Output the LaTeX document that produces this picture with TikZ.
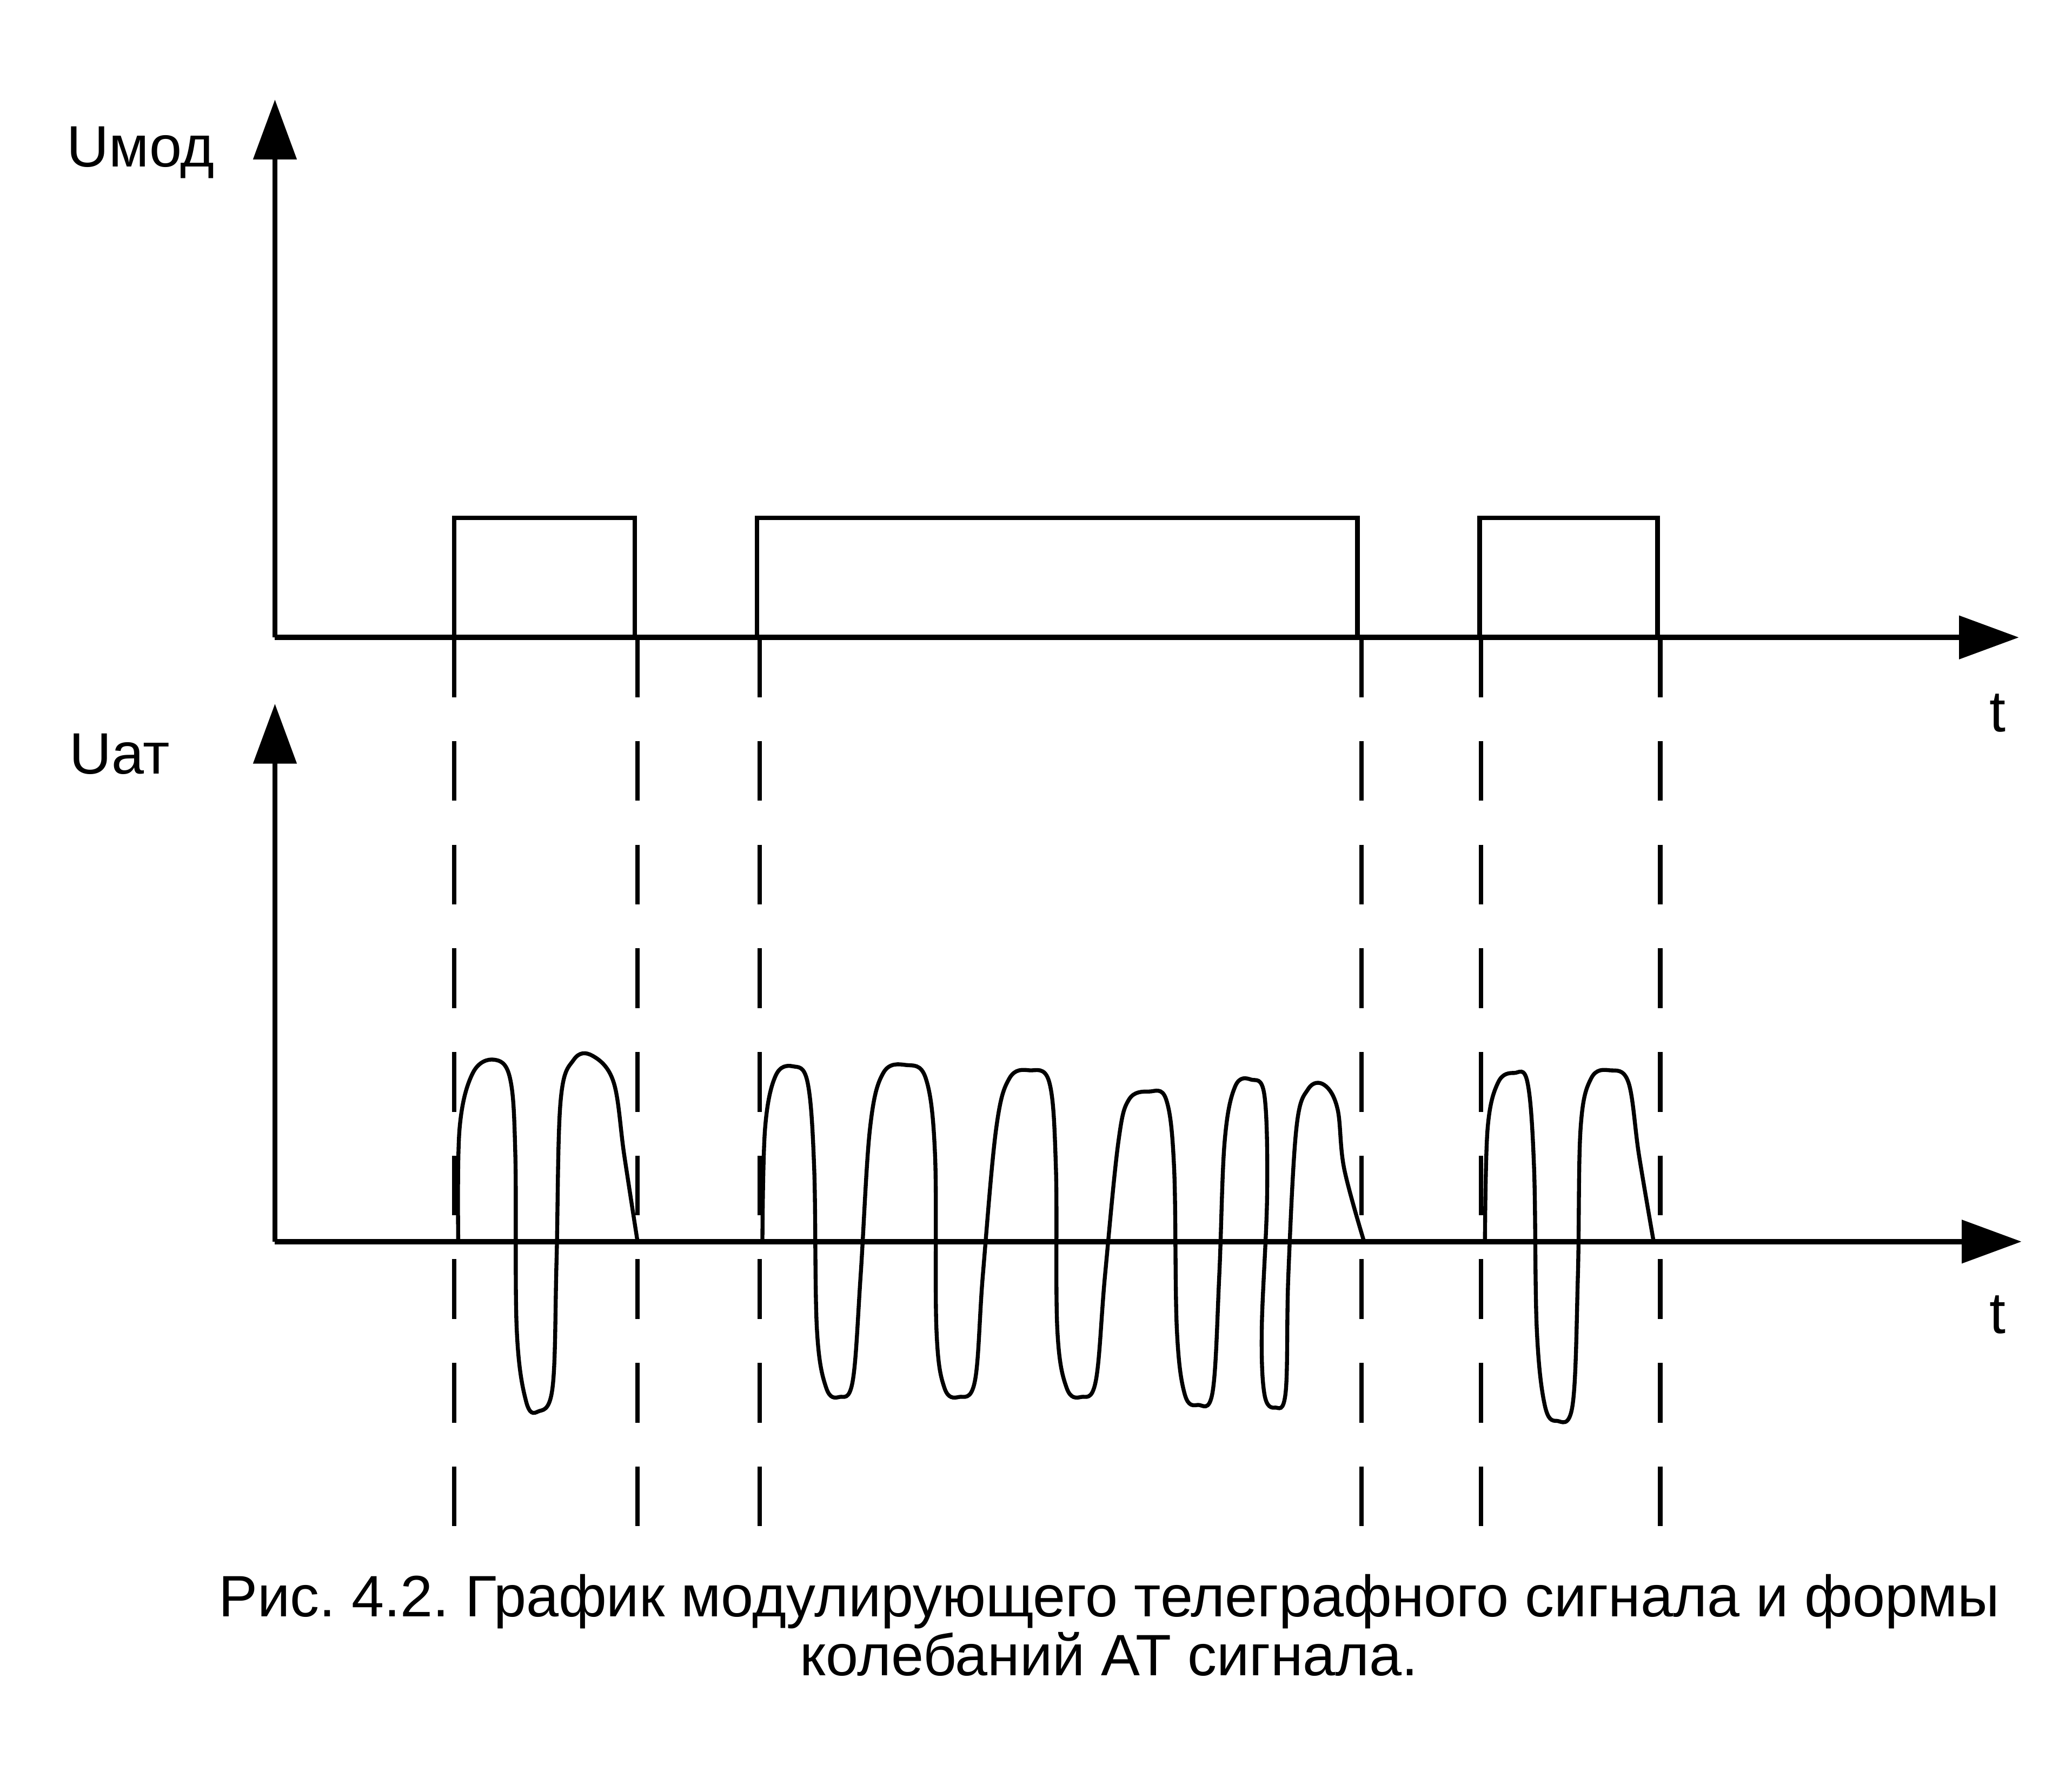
\documentclass[tikz,border=0pt]{standalone}
\usepackage{fontspec}
\setmainfont{Liberation Sans}
\usetikzlibrary{arrows.meta}
\frenchspacing
\begin{document}
\begin{tikzpicture}[x=0.01cm,y=-0.01cm,
  ax/.style={line width=1.1pt,-{Triangle[length=0.45cm,width=0.32cm]}},
  lbl/.style={font=\fontsize{12.5}{14}\selectfont,inner sep=0},
  dsh/.style={line width=1pt,dash pattern=on 0.45cm off 0.33cm},
  sig/.style={line width=0.85pt}]
\useasboundingbox (0,0) rectangle (1560,1344);
\coordinate (o1) at (207,480); \coordinate (y1) at (207,75); \coordinate (x1) at (1520,480);
\coordinate (o2) at (207,935); \coordinate (y2) at (207,530); \coordinate (x2) at (1522,935);
\draw[ax] (o1) -- (y1);
\draw[ax] (o1) -- (x1);
\draw[ax] (o2) -- (y2);
\draw[ax] (o2) -- (x2);
\node[lbl] (um) at (106,115) {Uмод};
\node[lbl] (ua) at (90,568) {Uат};
\node[lbl] (t1) at (1504,537) {t};
\node[lbl] (t2) at (1504,990) {t};
\draw[line width=1pt] (342,480) |- (478,390) -- (478,480);
\draw[line width=1pt] (570,480) |- (1022,390) -- (1022,480);
\draw[line width=1pt] (1114,480) |- (1248,390) -- (1248,480);
\foreach \x in {342,480,572,1025,1115,1250}
  \draw[dsh] (\x,480) -- (\x,1172);
\draw[sig] plot[smooth,tension=0.6] coordinates {(345,935) (346,850) (356,808) (372,798) (384,812) (388,870) (389,1000) (396,1055) (405,1063) (416,1045) (419,950) (422,830) (432,798) (446,795) (462,815) (470,870) (480,935)};
\draw[sig] plot[smooth,tension=0.6] coordinates {(574,935) (576,850) (584,810) (597,803) (608,815) (613,880) (615,1000) (622,1045) (632,1052) (642,1040) (648,960) (655,850) (665,808) (682,802) (697,812) (704,870) (705,1000) (711,1045) (722,1052) (734,1040) (740,960) (750,850) (760,812) (775,806) (790,815) (795,880) (796,1000) (803,1045) (814,1052) (825,1040) (832,960) (842,860) (850,828) (865,822) (878,828) (884,880) (886,1000) (892,1050) (902,1058) (913,1048) (918,960) (922,860) (930,818) (942,813) (952,825) (954,900) (950,1000) (952,1050) (960,1060) (968,1048) (970,960) (976,850) (985,820) (997,817) (1007,835) (1012,880) (1027,935)};
\draw[sig] plot[smooth,tension=0.6] coordinates {(1118,935) (1120,850) (1128,815) (1140,808) (1150,815) (1155,880) (1157,1000) (1163,1058) (1172,1070) (1184,1058) (1188,960) (1190,850) (1198,812) (1212,806) (1226,815) (1234,870) (1245,935)};
\node[lbl,align=center] (cap) at (835,1224) {Рис. 4.2. График модулирующего телеграфного сигнала и формы\\[-0.05cm] колебаний АТ сигнала.};
\end{tikzpicture}
\end{document}
